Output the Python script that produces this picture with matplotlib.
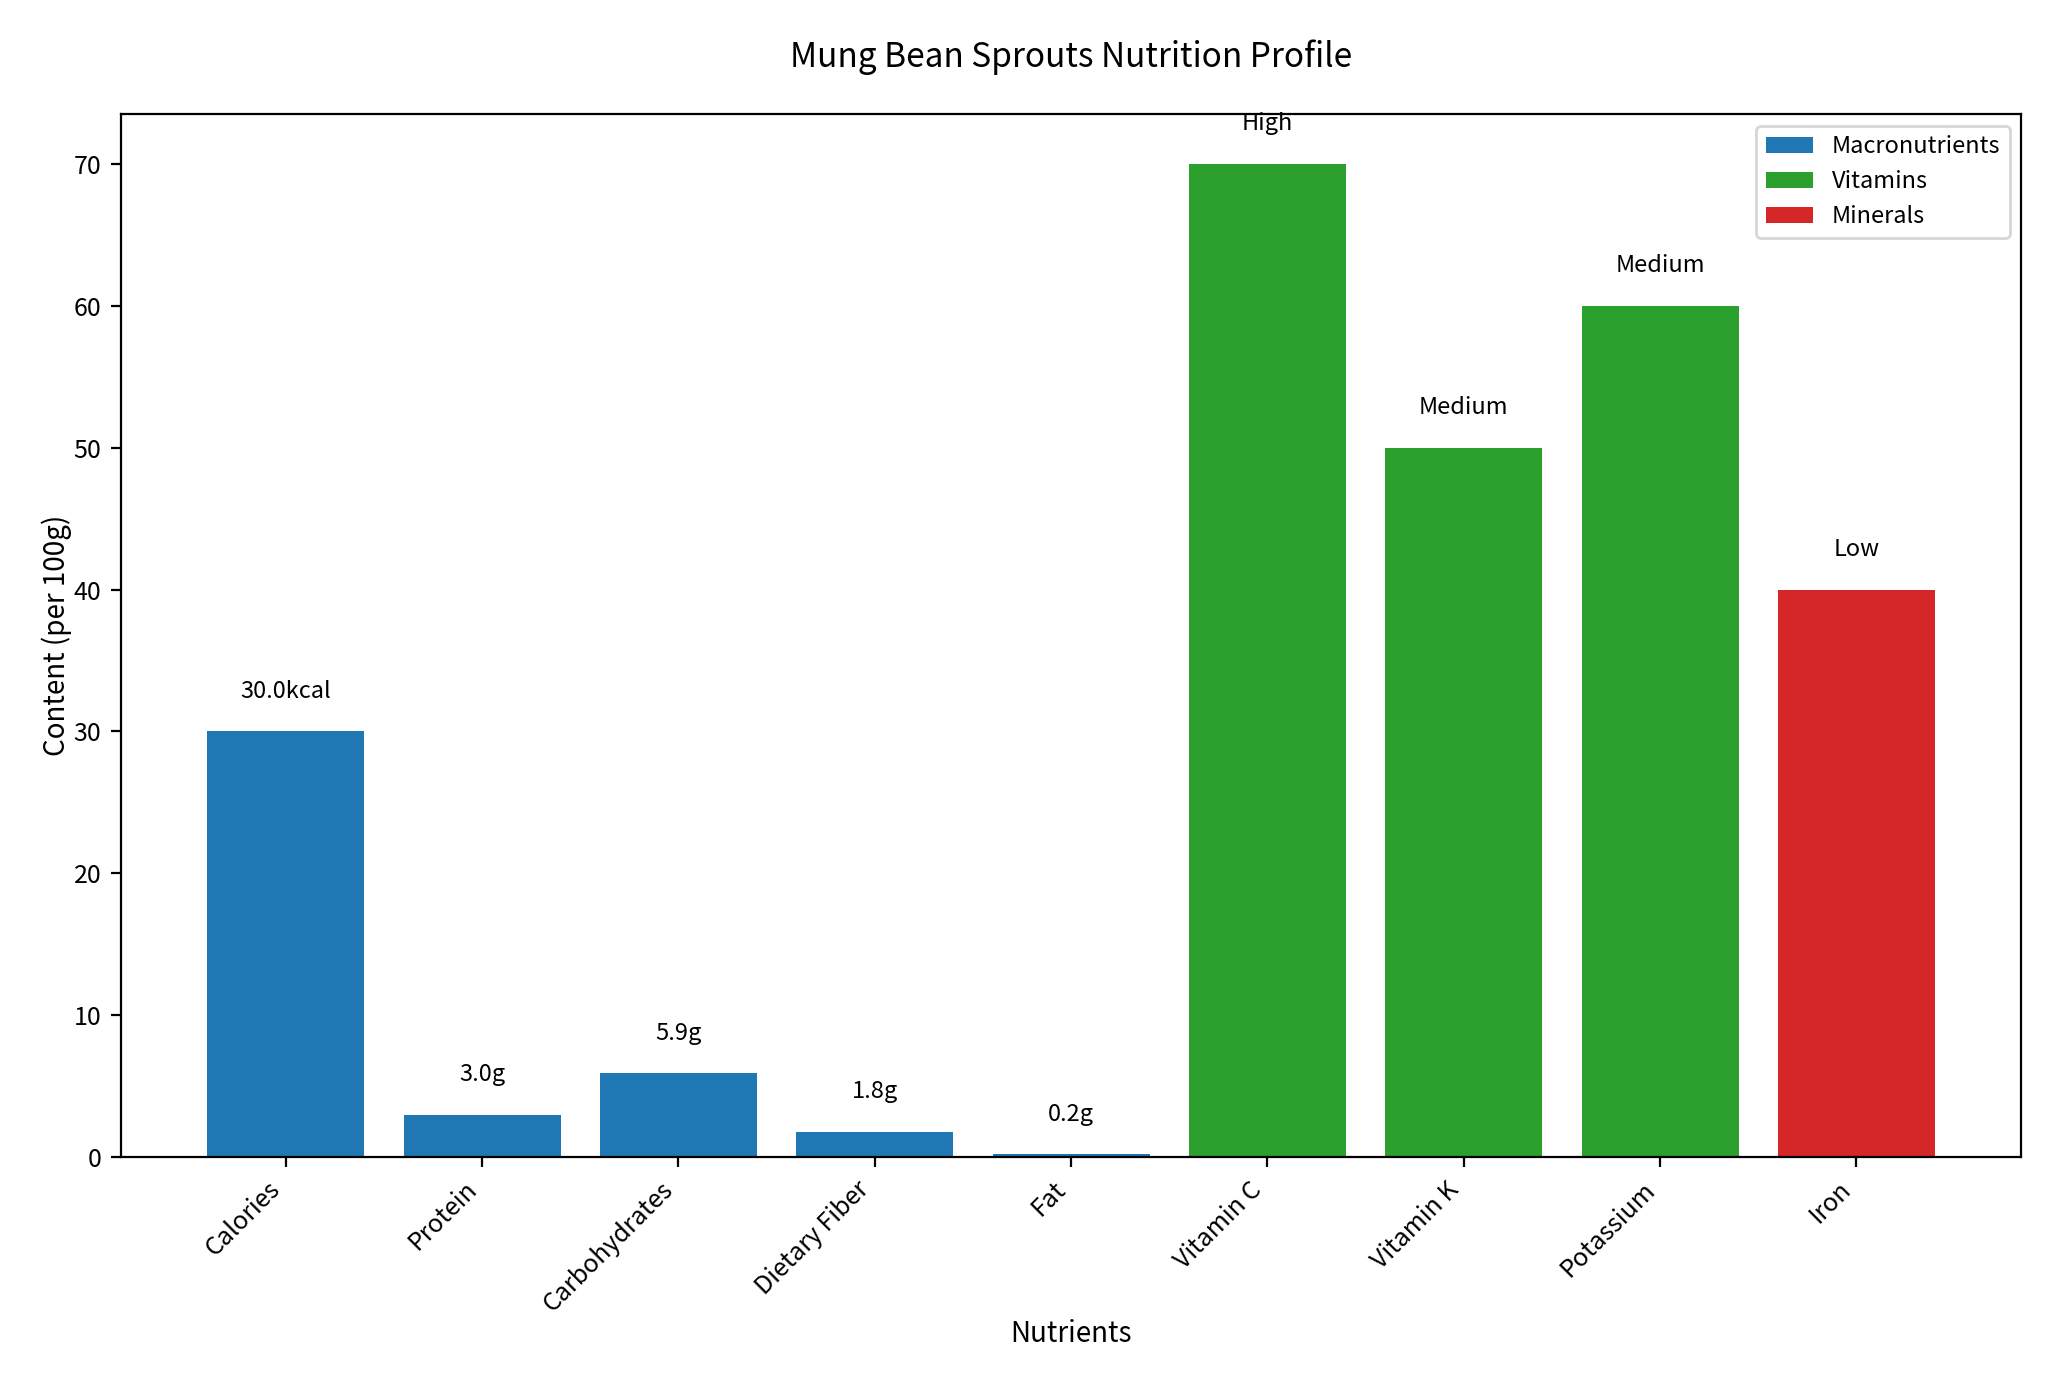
import matplotlib
matplotlib.use("Agg")
import matplotlib.pyplot as plt

plt.rcParams['font.family'] = ['Noto Sans CJK SC', 'DejaVu Sans']

nutrients = ["Calories", "Protein", "Carbohydrates", "Dietary Fiber", "Fat",
             "Vitamin C", "Vitamin K", "Potassium", "Iron"]
values = [30.0, 3.0, 5.9, 1.8, 0.2, 70, 50, 60, 40]
categories = ["Macronutrients"] * 5 + ["Vitamins"] * 3 + ["Minerals"]
bar_labels = ["30.0kcal", "3.0g", "5.9g", "1.8g", "0.2g",
              "High", "Medium", "Medium", "Low"]
cat_colors = {"Macronutrients": "#1f77b4", "Vitamins": "#2ca02c", "Minerals": "#d62728"}

fig = plt.figure(figsize=(10.24, 6.88), dpi=200)
ax = fig.add_axes([0.059, 0.159, 0.928, 0.758])

seen = set()
for i, (n, v, c) in enumerate(zip(nutrients, values, categories)):
    lab = c if c not in seen else None
    seen.add(c)
    ax.bar(i, v, width=0.8, color=cat_colors[c], label=lab)
    ax.text(i, v + 2, bar_labels[i], ha='center', va='bottom', fontsize=8.5)

ax.set_xticks(range(len(nutrients)))
ax.set_xticklabels(nutrients, rotation=45, ha='right', fontsize=9)
ax.tick_params(axis='y', labelsize=9)
ax.set_xlabel("Nutrients", fontsize=10, labelpad=0.7)
ax.set_ylabel("Content (per 100g)", fontsize=10, labelpad=0.7)
ax.set_title("Mung Bean Sprouts Nutrition Profile", fontsize=12, pad=17)
ax.legend(loc='upper right', fontsize=8.5)

fig.savefig("out.png", dpi=200)
